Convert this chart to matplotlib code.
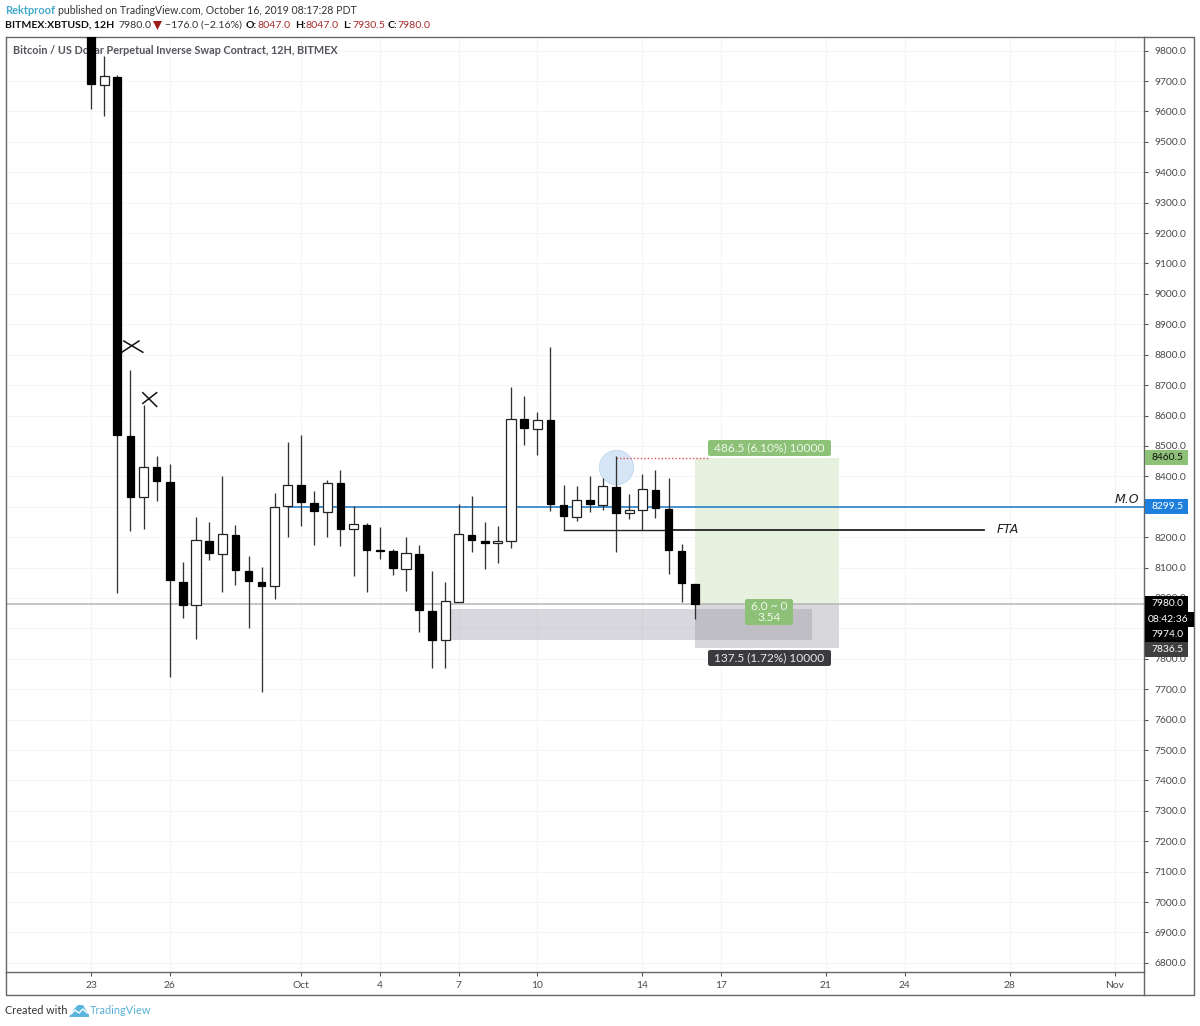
import matplotlib
matplotlib.use("Agg")
import matplotlib.pyplot as plt
from matplotlib.lines import Line2D
from matplotlib.patches import Rectangle, FancyBboxPatch, Polygon

plt.rcParams['font.family'] = ['Lato', 'DejaVu Sans']

W, H = 1200, 1026

# Candle values
opens  = [9900, 9687, 9713, 8533, 8333, 8431, 8382, 8053, 7977, 8187, 8144, 8207, 8089, 8053, 8040, 8303,
          8372, 8313, 8283, 8378, 8227, 8240, 8158, 8155, 8096, 8144, 7957, 7862, 7987, 8207, 8188, 8180,
          8187, 8589, 8556, 8586, 8306, 8267, 8323, 8306, 8366, 8280, 8290, 8356, 8293, 8155, 8047]
highs  = [9950, 9782, 9720, 8750, 8635, 8467, 8441, 8118, 8267, 8250, 8400, 8240, 8138, 8102, 8346, 8513,
          8536, 8352, 8388, 8421, 8303, 8246, 8234, 8161, 8201, 8174, 8089, 8053, 8310, 8336, 8250, 8237,
          8694, 8665, 8612, 8825, 8372, 8369, 8401, 8395, 8467, 8342, 8407, 8421, 8395, 8178, 8047]
lows   = [9608, 9585, 8017, 8220, 8227, 8319, 7740, 7935, 7865, 8125, 8020, 8043, 7901, 7690, 7997, 8201,
          8237, 8174, 8201, 8171, 8072, 8020, 8128, 8076, 8023, 7889, 7770, 7770, 7987, 8151, 8096, 8115,
          8164, 8503, 8470, 8286, 8224, 8254, 8283, 8290, 8151, 8260, 8224, 8264, 8079, 7987, 7930.5]
closes = [9690, 9716, 8536, 8333, 8431, 8385, 8059, 7977, 8191, 8148, 8210, 8092, 8056, 8040, 8300, 8372,
          8316, 8286, 8378, 8227, 8243, 8158, 8155, 8099, 8148, 7960, 7862, 7990, 8210, 8191, 8182, 8187,
          8589, 8559, 8586, 8310, 8270, 8323, 8310, 8369, 8280, 8290, 8359, 8297, 8158, 8050, 7980]

# Axis values
price_ticks = list(range(6800, 9801, 100))
date_pos = [0, 6, 16, 22, 28, 34, 42, 48, 56, 62, 70, 78]
date_labels = ['23', '26', 'Oct', '4', '7', '10', '14', '17', '21', '24', '28', 'Nov']

# Drawing values
mo_level = 8299.5
fta_level = 8224
last_price = 7980
target = 8460.5
stop = 7836.5
zone_low, zone_high = 7862, 7964


def fx(px):
    return px / W


def fy(py):
    return 1 - py / H


fig = plt.figure(figsize=(W / 100, H / 100), dpi=100, facecolor='white')
L, R, T, B = 5.5, 1144, 36.5, 971.5
ax = fig.add_axes([fx(L), fy(B), fx(R - L), fy(T) - fy(B)])
step = 13.125
ax.set_xlim((L - 91) / step, (R - 91) / step)
ppx = 0.3041


def price_at(py):
    return 9800 - (py - 50.6) / ppx


ax.set_ylim(price_at(B), price_at(T))

ax.set_axisbelow(True)
ax.grid(True, color='#f4f5f8', lw=0.8)
ax.set_xticks(date_pos)
ax.set_xticklabels(date_labels)
ax.set_yticks(price_ticks)
ax.set_yticklabels([f'{p:.1f}' if p != 8300 else '' for p in price_ticks])
ax.yaxis.tick_right()
ax.tick_params(axis='both', length=3, width=0.8, color='#555555', labelcolor='#4a4a50', labelsize=7.4)
ax.tick_params(axis='x', pad=4)
ax.tick_params(axis='y', pad=4.5)
for s in ax.spines.values():
    s.set_color('#666666')
    s.set_linewidth(1.0)

# Pane title, below the candles
ax.text(fx(13), fy(51), 'Bitcoin / US Dollar Perpetual Inverse Swap Contract, 12H, BITMEX', color='#55555c',
        fontsize=7.8, fontweight='bold', va='center', transform=fig.transFigure, zorder=2)

# Position tool and zones
ax.add_patch(Rectangle((46, last_price), 11, target - last_price, fc='#e6f1e0', ec='none', zorder=1))
ax.add_patch(Rectangle((46, stop), 11, last_price - stop, fc='#d8d8da', ec='none', zorder=1))
ax.add_patch(Rectangle((27, zone_low), 27.9, zone_high - zone_low, fc='#8c8c9c', alpha=0.34, ec='none', zorder=1.5))

# Price lines
ax.axhline(last_price, color='#b5b5b5', lw=1.1, zorder=1.8)
ax.plot([15, 90], [mo_level, mo_level], color='#2a7fc8', lw=1.2, zorder=1.9)

# Circle marker
ax.scatter([40], [8432], s=610, fc='#d6e6f6', ec='#bcd6ee', lw=0.6, zorder=2)

# Candles
for i, (o, h, l, c) in enumerate(zip(opens, highs, lows, closes)):
    ax.vlines(i, l, h, color='#333333', lw=0.95, zorder=3)
    up = c >= o
    low_b, top_b = min(o, c), max(o, c)
    ax.add_patch(Rectangle((i - 0.29 - (0.06 if up else 0), low_b), 0.58 + (0.12 if up else 0), top_b - low_b,
                           fc='white' if up else 'black', ec='#222222' if up else 'black', lw=0.9, zorder=4))

# FTA line
ax.plot([36, 44], [fta_level, fta_level], color='#222222', lw=1.0, zorder=2.5)
ax.plot([44, 68], [fta_level, fta_level], color='#222222', lw=1.3, zorder=2.5)

# Target dotted line
ax.plot([40, 47], [target, target], color='#e05050', lw=1.0, ls=(0, (1, 1.5)), zorder=2.6)

# X marks
x1 = [(2.35, 8808), (3.65, 8845)], [(2.5, 8845), (3.95, 8808)]
x2 = [(3.95, 8640), (5.0, 8675)], [(3.95, 8675), (5.0, 8630)]
for seg in (*x1, *x2):
    ax.plot(*zip(*seg), color='#111111', lw=1.1, zorder=5)

ax.text(78.0, 8325, 'M.O', style='italic', fontsize=9, color='#222222', family='DejaVu Sans', va='center', ha='left')
ax.text(69.0, 8224, 'FTA', style='italic', fontsize=9, color='#222222', family='DejaVu Sans', va='center', ha='left')


def tag(x0, x1, y0, y1, color, text, tc='white', fs=8.6, alpha=1.0):
    fig.add_artist(FancyBboxPatch((fx(x0), fy(y1)), fx(x1 - x0), fy(y0) - fy(y1), transform=fig.transFigure,
                                  boxstyle='round,pad=0,rounding_size=0.002', fc=color, ec='none', alpha=alpha, zorder=6))
    fig.text(fx((x0 + x1) / 2), fy((y0 + y1) / 2), text, color=tc, fontsize=fs, ha='center', va='center',
             linespacing=0.95, zorder=7)


tag(708, 831, 440, 456, '#8cc177', '486.5 (6.10%) 10000', tc='#eef6ea')
tag(745, 793, 599, 625, '#8cc177', '6.0 ~ 0\n3.54', tc='#eef6ea')
tag(708, 831, 650, 666, '#3b3b3f', '137.5 (1.72%) 10000', tc='#e8e8e8')


def price_tag(y0, y1, color, text, tc='white', x1=1188):
    fig.add_artist(Rectangle((fx(1144.5), fy(y1)), fx(x1 - 1144.5), fy(y0) - fy(y1), transform=fig.transFigure,
                             fc=color, ec='none', zorder=6))
    fig.text(fx(1151.5 if x1 == 1188 else 1147.5), fy((y0 + y1) / 2), text, color=tc, fontsize=7.4, ha='left', va='center', zorder=7)


price_tag(449.5, 465, '#8cc177', '8460.5', tc='#111111')
price_tag(499, 514, '#1e7fdc', '8299.5')
price_tag(596, 612, '#000000', '7980.0')
price_tag(612, 627, '#000000', '08:42:36', x1=1194)
price_tag(627, 642, '#000000', '7974.0')
price_tag(642, 657, '#3f3f3f', '7836.5')

# Outer frame
fr = dict(color='#666666', lw=1.0, transform=fig.transFigure, zorder=5)
fig.add_artist(Line2D([fx(R), fx(1194), fx(1194), fx(L), fx(L)], [fy(T), fy(T), fy(995), fy(995), fy(B)], **fr))
fig.add_artist(Line2D([fx(R), fx(R)], [fy(B), fy(995)], **fr))

# Header
fig.text(fx(5), fy(10), 'Rektproof', color='#45a9cb', fontsize=7.9, fontweight='bold', va='center')
fig.text(fx(58), fy(10), 'published on TradingView.com, October 16, 2019 08:17:28 PDT', color='#333338', fontsize=7.6, va='center')
segments = [(5, 'BITMEX:XBTUSD, 12H', '#111111', 'bold'), (118, '7980.0', '#333338', 'normal'),
            (165, '−176.0 (−2.16%)', '#333338', 'normal'), (246, 'O:', '#111111', 'bold'),
            (258, '8047.0', '#a82a2a', 'normal'), (295, 'H:', '#111111', 'bold'),
            (306, '8047.0', '#a82a2a', 'normal'), (343, 'L:', '#111111', 'bold'),
            (352, '7930.5', '#a82a2a', 'normal'), (388, 'C:', '#111111', 'bold'),
            (397, '7980.0', '#a82a2a', 'normal')]
for x, s, c, w in segments:
    fig.text(fx(x), fy(25), s, color=c, fontsize=7.55, fontweight=w, va='center')
fig.add_artist(Polygon([(fx(153), fy(21)), (fx(162), fy(21)), (fx(157.5), fy(30))], closed=True,
                       transform=fig.transFigure, fc='#9c1c1c', ec='none'))

# Footer
fig.text(fx(5), fy(1011), 'Created with', color='#333338', fontsize=7.8, va='center')
fig.add_artist(Polygon([(fx(p[0]), fy(p[1])) for p in
                        [(69, 1017), (74, 1009), (78, 1005), (83, 1005), (89, 1015), (89, 1017)]],
                       closed=True, transform=fig.transFigure, fc='#5ab4dc', ec='none'))
fig.add_artist(Line2D([fx(p) for p in (71, 75, 79, 83, 87)], [fy(p) for p in (1014, 1010, 1013, 1009, 1013)],
                      color='white', lw=1.0, transform=fig.transFigure))
fig.text(fx(90), fy(1011), 'TradingView', color='#58b0d6', fontsize=7.9, va='center')

fig.savefig('out.png', dpi=100, facecolor='white')
